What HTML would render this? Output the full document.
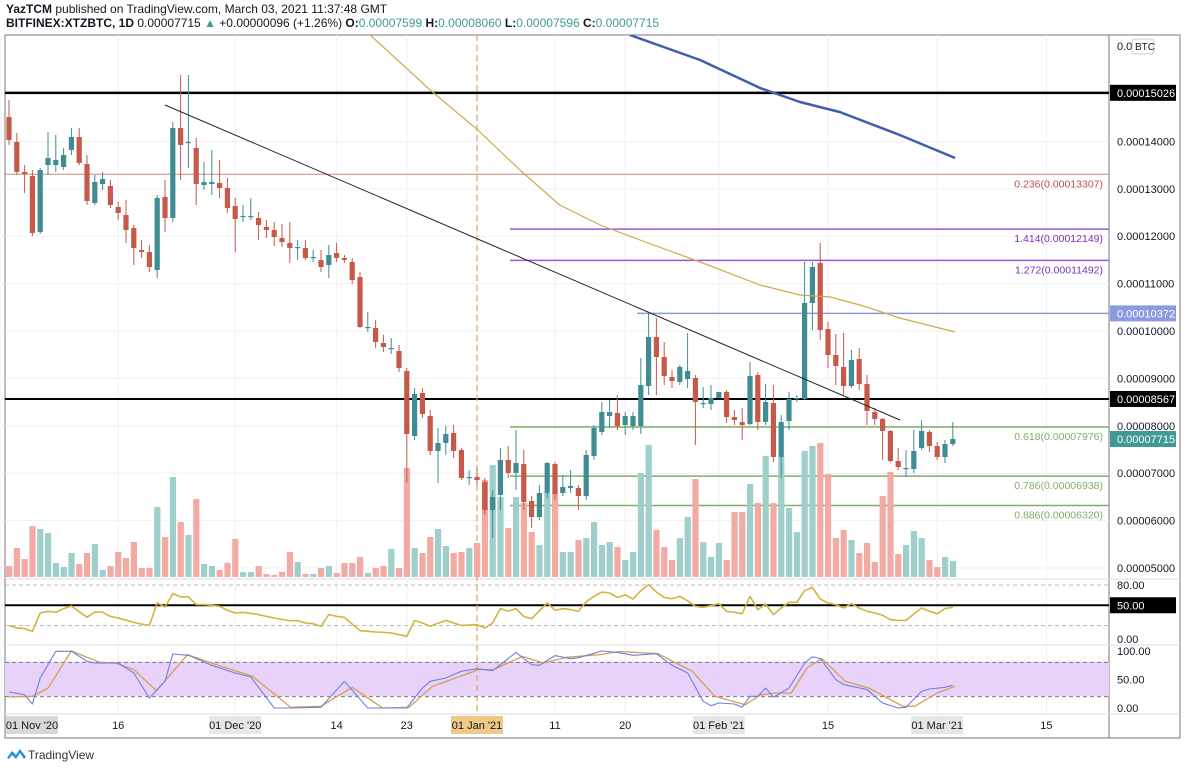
<!DOCTYPE html>
<html><head><meta charset="utf-8">
<style>
html,body{margin:0;padding:0;background:#fff;}
body{width:1185px;height:768px;overflow:hidden;font-family:"Liberation Sans",sans-serif;}
svg text{font-family:"Liberation Sans",sans-serif;}
</style></head>
<body>
<svg id="chart" width="1185" height="768" xmlns="http://www.w3.org/2000/svg">
<rect x="0" y="0" width="1185" height="768" fill="#fff"/>
<text x="6" y="13" font-size="12" fill="#131722"><tspan font-weight="bold">YazTCM</tspan> published on TradingView.com, March 03, 2021 11:37:48 GMT</text>
<text x="6" y="27" font-size="12" fill="#131722"><tspan font-weight="bold">BITFINEX:XTZBTC, 1D</tspan> 0.00007715 <tspan fill="#3f9a94">▲</tspan> +0.00000096 (+1.26%) <tspan font-weight="bold">O:</tspan><tspan fill="#3f9a94">0.00007599</tspan> <tspan font-weight="bold">H:</tspan><tspan fill="#3f9a94">0.00008060</tspan> <tspan font-weight="bold">L:</tspan><tspan fill="#3f9a94">0.00007596</tspan> <tspan font-weight="bold">C:</tspan><tspan fill="#3f9a94">0.00007715</tspan></text>
<rect x="5" y="35" width="1175" height="703" fill="none" stroke="#777" stroke-width="1"/>
<line x1="1109" y1="35" x2="1109" y2="738" stroke="#777" stroke-width="1"/>
<line x1="5" y1="579" x2="1180" y2="579" stroke="#ddd" stroke-width="1"/>
<line x1="5" y1="645" x2="1180" y2="645" stroke="#ddd" stroke-width="1"/>
<line x1="5" y1="714" x2="1180" y2="714" stroke="#ddd" stroke-width="1"/>
<g id="grid"></g>
<rect x="5" y="662" width="1104" height="34" fill="#e8d2fa"/>
<g id="levels"></g>
<g id="volume"></g>
<g id="candles"></g>
<g id="overlays"></g>
<g id="ind"></g>
<g id="axis"></g>
<g>
<path d="M7 758 L12 751 L16 755 L20 749 L26 757 L24 759 L20 753 L16 759 L12 755 L9 759 Z" fill="#2a8fd8"/>
<text x="28" y="759" font-size="12" fill="#333">TradingView</text>
</g>
</svg>
<script>
// ---- data (prices in satoshi, 1e-8 BTC) ----
const opens=[14516,13989,13356,13271,12090,13503,13503,13461,13820,14094,13524,12702,13102,13060,12617,12448,12174,11710,11668,11288,12828,12385,14284,13968,13862,13081,13102,13124,13018,12638,12406,12427,12385,12195,12132,11963,11858,11773,11752,11562,11499,11393,11647,11541,11457,11140,10085,10064,9748,9642,9579,9157,7785,8693,8207,7469,7638,7849,7490,6920,6920,6815,6224,6540,7279,7005,7194,6414,6076,6583,7194,6583,6688,6688,6519,7363,7870,8207,8271,8017,7996,7996,8840,9874,9452,9030,8925,8988,9009,8482,8460,8587,8714,8186,8081,8038,9072,8081,8482,7342,8102,8566,8566,10592,11436,10043,9494,9241,8840,9410,8882,8292,8144,7891,7258,7110,7089,7532,7870,7574,7342,7616];
const closes=[14031,13356,13313,12069,13398,13651,13609,13714,14094,13546,12744,13145,13208,12659,12491,12132,11752,11668,11351,12807,12385,14284,13925,13989,13102,13145,13145,13018,12596,12364,12427,12427,12237,12132,11984,11879,11752,11773,11541,11562,11351,11604,11541,11499,11077,10085,10085,9769,9663,9642,9220,7827,8671,8249,7469,7638,7827,7469,6899,6920,6857,6224,6498,7279,7005,7216,6393,6076,6583,7216,6561,6709,6730,6519,7384,7954,8292,8292,7996,8207,8207,8861,9874,9452,9051,8946,9241,9157,8503,8482,8587,8714,8186,8123,8017,9051,8081,8503,7342,8081,8566,8587,10592,11351,10022,9494,9262,8840,9389,8882,8313,8144,7891,7258,7131,7110,7469,7891,7574,7342,7616,7722];
const highs=[14875,14179,13503,13398,13440,14200,14137,13862,14284,14284,13714,13292,13356,13187,12723,12765,12237,11921,11815,12870,13187,14411,15403,15403,14073,13567,13820,13609,13229,12807,12659,12807,12512,12343,12301,12258,12301,11921,11921,11710,11710,11815,11858,11604,11541,11246,10402,10233,9916,9853,9705,9220,8798,8798,8334,7954,7996,8017,7532,7068,7110,6899,6646,7532,7574,7912,7490,6519,6751,7237,7237,6962,7068,6751,7490,8017,8503,8545,8650,8292,8292,9431,10381,10275,9769,9178,9283,9959,9072,8819,8861,8714,8756,8334,8376,9347,9136,8882,8861,8228,8714,8650,11457,11457,11858,10191,9937,9959,9600,9642,9072,8376,8165,7912,7532,7490,7912,8123,7912,7659,7701,8081];
const lows=[13925,13292,12913,12005,12047,13292,13356,13398,13714,13503,12659,12659,12976,12596,12343,11858,11393,11541,11246,11119,12090,12301,13187,13440,12659,12976,12870,12807,12491,11668,12301,12343,11921,11963,11794,11773,11436,11499,11499,11457,11246,11119,11457,11436,10992,10064,9980,9642,9558,9515,9136,6794,7701,8165,7384,6794,7384,7321,6857,6751,6751,6118,5633,6224,6899,6646,6224,5844,6013,6477,6435,6519,6583,6224,6435,7279,7806,7954,7912,7806,7912,7827,8650,8650,8861,8798,8861,8798,7595,8376,8334,8650,8060,8017,7701,8017,7912,8017,7237,6899,7912,8503,8545,10022,9811,9220,8861,8650,8798,8756,8017,8017,7279,7237,7068,6920,7005,7490,7448,7279,7216,7574];
const volumes=[11,29,18,51,48,44,14,10,24,13,24,33,7,11,25,19,35,9,9,70,40,100,55,42,78,13,11,7,14,38,5,5,11,3,2,5,25,15,3,3,9,11,4,14,14,20,4,9,11,28,9,109,29,24,40,48,31,24,25,29,34,97,112,80,49,80,74,45,32,84,84,25,25,37,39,55,32,35,30,17,25,104,132,47,30,17,39,60,98,35,20,34,17,65,65,93,74,121,74,120,69,45,126,131,134,103,39,47,37,24,34,15,81,105,23,32,46,39,17,10,20,16];
const rsiVals=[19.8,16.4,15.4,11.4,38.5,41,39.5,45,48.9,40.5,32.1,40,39.5,33.5,31.1,28,24.6,22,20.1,53.3,47.4,67.2,62.3,62.3,50.9,50.9,49.9,48.4,42.5,38.5,39.5,38,36.1,33.5,31.1,29.1,27.1,27.1,23.7,22.7,18.8,36.1,33.5,32.1,22.2,12.3,11.4,10.4,9.9,8.9,6.4,4,27.6,23.7,18.8,23.2,27.6,23.7,20.1,20.6,21.2,16.4,23.7,45,41,45,33.5,30,41.9,53.3,42.5,45,43.5,41,55,63.2,69.6,68.1,61.5,65.5,59.2,71.6,80.5,69.6,61.5,59.6,63.2,56.6,48.4,46.9,49.4,52.3,41,39.5,37.5,63.2,43.5,51.9,36.1,46,54.3,54.3,71.6,76.5,59.2,53.3,50.9,46,52.3,46,41,38.5,35.1,28.6,27.6,27.6,37,46,41,37.5,45,46.9];
const stochKDays=[0,2,3,4,6,8,10,11,14,16,18,20,21,23,25,26,29,31,34,36,40,43,46,51,53,54,56,58,60,62,65,67,68,70,72,73,76,78,80,83,85,87,89,90,91,93,94,95,96,97,98,100,102,103,104,106,107,110,112,114,115,117,118,120,121];
const stochKVals=[28,23.4,7,52.6,99.4,99.4,81.9,79,79,61.4,17.5,46.8,94.7,92.4,80.7,74.9,61.4,54.4,0,0,1.2,46.8,0,0,35,46.8,52.6,64.3,69,65.5,97.5,76,75,92,86.5,88,100,97.5,92.4,95.3,75,61.4,11.7,4.1,8.8,7,1.2,20.5,20.5,35,18.7,35,79,89.8,86.9,50,41,32.2,8.8,0,1.2,29.2,33.3,36.3,39.8];
const stochDDays=[0,3,5,8,11.6,13.6,16,18.9,22.9,26.3,31.2,36.1,40,44,47.9,51.3,54.3,60.2,62.1,65.8,68.5,71.5,75.8,78.2,83.2,87.6,90.5,94.4,96.4,98.3,100.3,102.3,104.2,107.2,110.2,114.6,116.1,119,121.3];
const stochDVals=[19.3,20.5,35,100,80.1,79,67.3,30.4,93.6,77.2,55.6,1.2,2.9,36.3,0,1.2,38,67.3,67.3,90.6,79,89,93.6,99.2,95.3,64.3,20.5,5.8,23.4,26.3,26.3,70.2,86.9,46.8,35,2.9,2.9,26.3,38];
const ma100Days=[46.3,54,60.1,65.5,70.6,75.8,80.9,88.6,96.3,101.4,105.3,109.1,114.2,121.3];
const ma100Vals=[16246,15086,14242,13398,12659,12237,11921,11457,10971,10760,10718,10549,10275,9980];
const ma200Days=[79.6,88.6,96.3,101.4,106.5,114.2,121.3];
const ma200Vals=[16246,15719,15128,14833,14622,14136,13651];
const priceTicks=[14000,13000,12000,11000,10000,9000,8000,7000,6000,5000];
const timeLabels=["01 Nov '20","16","01 Dec '20","14","23","01 Jan '21","11","20","01 Feb '21","15","01 Mar '21","15"];
const timeDays=[-1,14,29,42,51,60,70,79,91,105,119,133];

// ---- axes ----
const xOf=i=>9+7.8*i;
const yP=s=>568-(s-5000)/21.1;
const yR=v=>639-0.675*v;
const yS=v=>708-0.57*v;
const yVol=v=>577-v;
const NS="http://www.w3.org/2000/svg";
function mk(tag,attrs,parent,txt){const e=document.createElementNS(NS,tag);for(const k in attrs)e.setAttribute(k,attrs[k]);if(txt!==undefined)e.textContent=txt;parent.appendChild(e);return e;}
const G=id=>document.getElementById(id);
const fmt=s=>(s/1e8).toFixed(8);

// grid
const grid=G('grid');
priceTicks.forEach(t=>{const l=mk('line',{x1:5,x2:1109,y1:yP(t),y2:yP(t),stroke:'#f0f0f0'},grid);

});
timeDays.forEach(d=>{const l=mk('line',{x1:xOf(d),x2:xOf(d),y1:35,y2:714,stroke:'#f0f0f0'},grid);

});

// levels
const lv=G('levels');
function hline(y,x1,col,w,name,label){const l=mk('line',{x1:x1,x2:1109,y1:y,y2:y,stroke:col,'stroke-width':w},lv);


if(label){const t=mk('text',{x:1103,y:y+13,'font-size':10.5,fill:col,'text-anchor':'end'},lv,label);

}}
hline(yP(15026),5,'#000',2.5,'resistance-15026');
hline(yP(13307),5,'#c98a7c',1,'fib-0236','0.236(0.00013307)');
lv.lastChild.setAttribute('fill','#c0504d');
hline(yP(12149),510,'#9b59d6',1.5,'fib-1414','1.414(0.00012149)');
lv.lastChild.setAttribute('fill','#7b2fc0');
hline(yP(11492),510,'#9b59d6',1.5,'fib-1272','1.272(0.00011492)');
lv.lastChild.setAttribute('fill','#7b2fc0');
hline(yP(10372),637,'#8a9be0',1.5,'resistance-10372');
hline(yP(8567),5,'#000',2,'support-8567');
hline(yP(7976),510,'#7fae6a',1.5,'fib-0618','0.618(0.00007976)');
hline(yP(6938),510,'#7fae6a',1.5,'fib-0786','0.786(0.00006938)');
hline(yP(6320),510,'#7fae6a',1.5,'fib-0886','0.886(0.00006320)');
// RSI bands
[80,20].forEach(v=>{const l=mk('line',{x1:5,x2:1109,y1:yR(v),y2:yR(v),stroke:'#bbb','stroke-dasharray':'4,3'},lv);

});
[80,20].forEach(v=>{const l=mk('line',{x1:5,x2:1109,y1:yS(v),y2:yS(v),stroke:'#777','stroke-dasharray':'4,3'},lv);

});
const r50=mk('line',{x1:5,x2:1109,y1:yR(50),y2:yR(50),stroke:'#000','stroke-width':2},lv);


const vd=mk('line',{x1:xOf(60),x2:xOf(60),y1:35,y2:714,stroke:'#d9a55a','stroke-dasharray':'6,4','stroke-width':1.2},lv);



// volume
const vg=G('volume');
volumes.forEach((v,i)=>{const up=closes[i]>=opens[i];const r=mk('rect',{x:xOf(i)-3,y:yVol(v),width:6.2,height:v,fill:up?'#9fcfcb':'#f2aaa3'},vg);

});

// candles
const cg=G('candles');
opens.forEach((o,i)=>{const c=closes[i];const up=c>=o;const col=up?'#3f8d93':'#c6594a';const x=xOf(i);
const w=mk('line',{x1:x,x2:x,y1:yP(highs[i]),y2:yP(lows[i]),stroke:col,'stroke-width':1},cg);


const top=Math.min(yP(o),yP(c));const h=Math.max(1.2,Math.abs(yP(o)-yP(c)));
const b=mk('rect',{x:x-2.6,y:top,width:5.2,height:h,fill:col},cg);

});

// overlays
const og=G('overlays');
mk('clipPath',{id:'mainclip'},og);
mk('rect',{x:5,y:35,width:1104,height:543},og.lastChild);
function poly(days,vals,yf,col,w,name,parent,clip){const pts=days.map((d,k)=>xOf(d).toFixed(1)+','+yf(vals[k]).toFixed(1)).join(' ');
const p=mk('polyline',{points:pts,fill:'none',stroke:col,'stroke-width':w,'stroke-linejoin':'round'},parent);
if(clip)p.setAttribute('clip-path','url(#mainclip)');

}
poly(ma100Days,ma100Vals,yP,'#d4a84a',1.2,'ma-100-line',og,true);
poly(ma200Days,ma200Vals,yP,'#3f5fa8',2.5,'ma-200-line',og,true);
const tl=mk('line',{x1:165,y1:105,x2:900,y2:420,stroke:'#222','stroke-width':1},og);



// indicators
const ig=G('ind');
poly(rsiVals.map((v,i)=>i),rsiVals,yR,'#d4b43c',1.6,'rsi-line',ig,false);
poly(stochDDays,stochDVals,yS,'#d4a050',1.3,'stoch-d-line',ig,false);
poly(stochKDays,stochKVals,yS,'#6c7fe6',1.1,'stoch-k-line',ig,false);

// axis labels
const ag=G('axis');
priceTicks.forEach(t=>{const tx=mk('text',{x:1117,y:yP(t)+4,'font-size':11,fill:'#131722'},ag,fmt(t));

});
const topT=mk('text',{x:1117,y:50,'font-size':11,fill:'#131722'},ag,'0.0(          00');


const btc=mk('rect',{x:1132,y:39,width:22,height:15,rx:3,fill:'#fff',stroke:'#ccc'},ag);


mk('text',{x:1135,y:50,'font-size':10,fill:'#131722'},ag,'BTC');
function tag(val,y,bg,fg,name){const r=mk('rect',{x:1110,y:y-8,width:66,height:16,fill:bg},ag);


mk('text',{x:1117,y:y+4,'font-size':11,fill:fg},ag,val);}
tag('0.00015026',yP(15026),'#000','#fff','price-tag-15026');
tag('0.00010372',yP(10372),'#8a9be0','#fff','price-tag-10372');
tag('0.00008567',yP(8567),'#000','#fff','price-tag-8567');
tag('0.00007715',yP(7722),'#3f9a94','#fff','last-price-tag');
tag('50.00',yR(50),'#000','#fff','rsi-50-tag');
[[80,'80.00'],[0,'0.00']].forEach(a=>{const t=mk('text',{x:1117,y:yR(a[0])+4,'font-size':11,fill:'#131722'},ag,a[1]);

});
[[100,'100.00'],[50,'50.00'],[0,'0.00']].forEach(a=>{const t=mk('text',{x:1117,y:yS(a[0])+4,'font-size':11,fill:'#131722'},ag,a[1]);

});
timeLabels.forEach((lab,k)=>{const x=k===0?32:xOf(timeDays[k]);
if(lab.length>3){const bg=lab==="01 Jan '21"?'#f0c987':'#e6e6e6';const r=mk('rect',{x:x-26,y:716,width:52,height:18,fill:k===0?'#d8d8d8':bg},ag);

}
const t=mk('text',{x:x,y:729,'font-size':11,fill:'#131722','text-anchor':'middle'},ag,lab);

});
</script>
</body></html>
